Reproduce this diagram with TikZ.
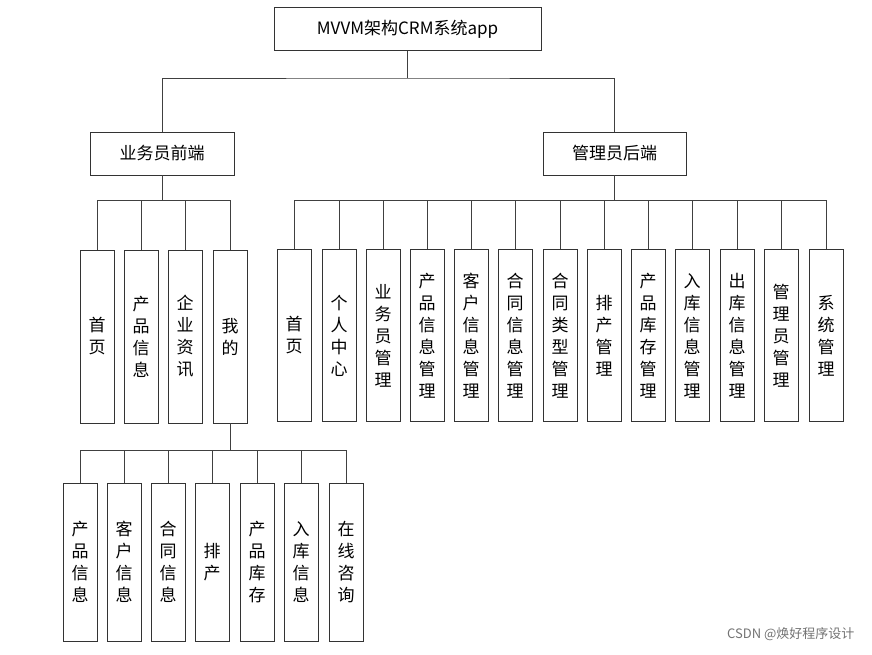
\documentclass[tikz,border=0pt]{standalone}
\usepackage{fontspec}
\newfontfamily\cjk{Noto Sans CJK SC}
\begin{document}
\begin{tikzpicture}[x=1pt,y=-1pt,
  bx/.style={draw=black!80,fill=white,line width=0.8pt,inner sep=0pt,font=\cjk\fontsize{17}{22}\selectfont},
  hb/.style={bx,minimum height=43pt},
  vb/.style={bx,minimum width=34pt,align=center},
  ln/.style={draw=black!75,line width=0.8pt}]
\useasboundingbox (0,0) rectangle (872,655);
\node[hb,minimum width=267pt] (root) at (407.5,29) {MVVM架构CRM系统app};
\node[hb,minimum width=144pt] (L) at (162,153.5) {业务员前端};
\node[hb,minimum width=143pt] (R) at (614.5,153.5) {管理员后端};
\coordinate (rj) at (407.5,78);
\draw[ln] (root.south) -- (rj);
\draw[ln] (L.north) |- (rj) -| (R.north);
% left children
\foreach \n/\x/\t in {l1/97/首\\页, l2/141/产\\品\\信\\息, l3/185/企\\业\\资\\讯, l4/230/我\\的}{
  \node[vb,minimum height=173pt] (\n) at (\x,336.5) {\t};
}
\coordinate (lj) at (162,200);
\draw[ln] (L.south) -- (lj);
\foreach \n in {l1,l2,l3,l4}{\draw[ln] (lj) -| (\n.north);}
% right children
\foreach \n/\x/\t in {r1/294/首\\页, r2/339/个\\人\\中\\心, r3/383/业\\务\\员\\管\\理, r4/427/产\\品\\信\\息\\管\\理, r5/471/客\\户\\信\\息\\管\\理, r6/515/合\\同\\信\\息\\管\\理, r7/560/合\\同\\类\\型\\管\\理, r8/604/排\\产\\管\\理, r9/648/产\\品\\库\\存\\管\\理, r10/692/入\\库\\信\\息\\管\\理, r11/737/出\\库\\信\\息\\管\\理, r12/781/管\\理\\员\\管\\理, r13/826/系\\统\\管\\理}{
  \node[vb,minimum height=172pt] (\n) at (\x,335.5) {\t};
}
\coordinate (rj2) at (614.5,200);
\draw[ln] (R.south) -- (rj2);
\foreach \n in {r1,r2,r3,r4,r5,r6,r7,r8,r9,r10,r11,r12,r13}{\draw[ln] (rj2) -| (\n.north);}
% my children
\foreach \n/\x/\t in {m1/80/产\\品\\信\\息, m2/124/客\\户\\信\\息, m3/168/合\\同\\信\\息, m4/212/排\\产, m5/257/产\\品\\库\\存, m6/301/入\\库\\信\\息, m7/346/在\\线\\咨\\询}{
  \node[vb,minimum height=158pt] (\n) at (\x,562) {\t};
}
\coordinate (mj) at (230,450);
\draw[ln] (l4.south) -- (mj);
\foreach \n in {m1,m2,m3,m4,m5,m6,m7}{\draw[ln] (mj) -| (\n.north);}
\node[font=\cjk\fontsize{13}{15}\selectfont,text=black!55,anchor=east] (wm) at (858,634) {CSDN @焕好程序设计};
\end{tikzpicture}
\end{document}
